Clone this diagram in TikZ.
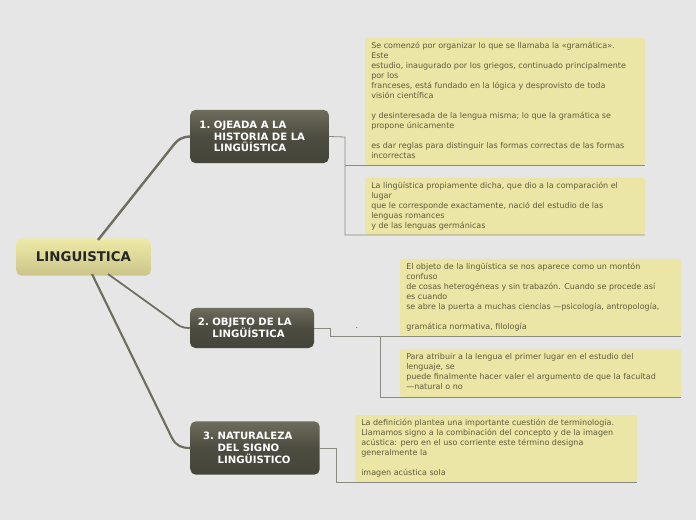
\documentclass[tikz,border=0pt]{standalone}
\usepackage{fontspec}
\setmainfont{DejaVu Sans}
\definecolor{bg}{HTML}{E6E6E6}
\definecolor{note}{HTML}{EBE5A6}
\definecolor{notetxt}{HTML}{5E5C3C}
\definecolor{darktop}{HTML}{6E6C5C}
\definecolor{darkbot}{HTML}{45443A}
\definecolor{yeltop}{HTML}{EFEAA8}
\definecolor{yelbot}{HTML}{CBC48A}
\definecolor{branch}{HTML}{6F6D5E}
\definecolor{thin}{HTML}{8A8A80}
\begin{document}
\begin{tikzpicture}[x=0.75pt,y=-0.75pt,
  topic/.style={rounded corners=4pt,top color=darktop,bottom color=darkbot,middle color=darkbot!80!darktop,draw=none,text=white,font=\fontsize{7.6}{8.8}\selectfont\bfseries,align=left,inner sep=0pt},
  root/.style={rounded corners=4pt,top color=yeltop,bottom color=yelbot,draw=none,font=\fontsize{10}{12}\selectfont\bfseries,text=black!85},
  notebox/.style={fill=note,rounded corners=2pt,draw=none},
  notetext/.style={anchor=north west,align=left,text=notetxt,font=\fontsize{6}{7.5}\selectfont,inner sep=0pt},
  br/.style={draw=branch,line width=1.8pt},
  ln/.style={draw=thin,line width=0.6pt}]
\fill[bg] (0,0) rectangle (696,520);
\useasboundingbox (0,0) rectangle (696,520);
% note boxes
\fill[notebox] (365,38) rectangle (645,165);
\fill[notebox] (365,178) rectangle (645,235);
\fill[notebox] (400,259) rectangle (681,336);
\fill[notebox] (400,349) rectangle (681,397);
\fill[notebox] (355,415) rectangle (637,482);
\node[notetext] (ta) at (371,42) {Se comenzó por organizar lo que se llamaba la «gramática».\\Este\\estudio, inaugurado por los griegos, continuado principalmente\\por los\\franceses, está fundado en la lógica y desprovisto de toda\\visión científica\\[7.5pt]y desinteresada de la lengua misma; lo que la gramática se\\propone únicamente\\[7.5pt]es dar reglas para distinguir las formas correctas de las formas\\incorrectas};
\node[notetext] (tb) at (371,182) {La lingüística propiamente dicha, que dio a la comparación el\\lugar\\que le corresponde exactamente, nació del estudio de las\\lenguas romances\\y de las lenguas germánicas};
\node[notetext] (tc) at (406,263) {El objeto de la lingüística se nos aparece como un montón\\confuso\\de cosas heterogéneas y sin trabazón. Cuando se procede así\\es cuando\\se abre la puerta a muchas ciencias —psicología, antropología,\\[7.5pt]gramática normativa, filología};
\node[notetext] (td) at (406,353) {Para atribuir a la lengua el primer lugar en el estudio del\\lenguaje, se\\puede finalmente hacer valer el argumento de que la facultad\\—natural o no};
\node[notetext] (te) at (361,419) {La definición plantea una importante cuestión de terminología.\\Llamamos signo a la combinación del concepto y de la imagen\\acústica: pero en el uso corriente este término designa\\generalmente la\\[7.5pt]imagen acústica sola};
% nodes
\node[root,minimum width=101pt,minimum height=28pt] (root) at (83.5,257) {LINGUISTICA};
\node[topic,minimum width=104pt,minimum height=40pt] (n1) at (259.5,136.5) {\llap{1.~}OJEADA A LA\\HISTORIA DE LA\\LINGÜÍSTICA};
\node[topic,minimum width=93pt,minimum height=30pt] (n2) at (252,328) {\llap{2.~}OBJETO DE LA\\LINGÜÍSTICA};
\node[topic,minimum width=97pt,minimum height=40pt] (n3) at (255,448) {\llap{3.~}NATURALEZA\\DEL SIGNO\\LINGÜISTICO};
\node[font=\fontsize{6}{7}\selectfont,text=black!70,inner sep=0pt] (dot) at (357,328) {.};
% branches
\coordinate (r1) at (98,240);
\coordinate (r2) at (108,274);
\coordinate (r3) at (92,274);
\draw[br] (r1) -- (172,147) .. controls (178,139) and (182,137) .. (n1.west);
\draw[br,line width=1.3pt] (r2) -- (172,320) .. controls (178,326) and (182,328) .. (n2.west);
\draw[br,line width=1.6pt] (r3) -- (172,438) .. controls (176,446) and (182,448) .. (n3.west);
% thin connectors
\draw[ln] (n1.east) -- (345,137) -- (345,235) -- (645,235);
\draw[ln] (345,165) -- (645,165);
\draw[ln] (n2.east) -- (330,328) -- (330,336) -- (681,336);
\draw[ln] (380,336) -- (380,397) -- (681,397);
\draw[ln] (n3.east) -- (336,448) -- (336,482) -- (637,482);
\end{tikzpicture}
\end{document}
